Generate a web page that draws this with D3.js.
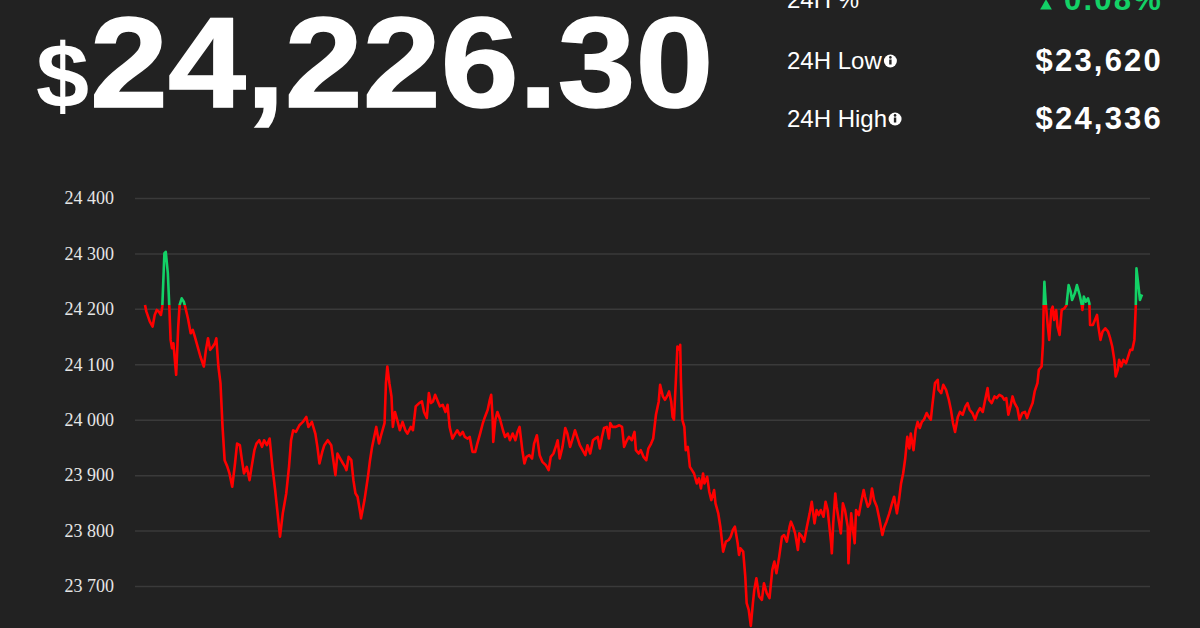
<!DOCTYPE html>
<html>
<head>
<meta charset="utf-8">
<script src="https://cdn.jsdelivr.net/npm/d3@7"></script>
<style>
  html, body { margin: 0; padding: 0; background: #222222; }
  svg { display: block; }
</style>
</head>
<body>
<svg id="chart" width="1200" height="628"></svg>
<script>
(function () {
    'use strict';

    const WIDTH = 1200;
    const HEIGHT = 628;

    // 24h window, minutes since open
    const minutes = [
        0, 2, 7, 11, 14, 17, 20, 23, 25, 28, 30, 33, 35, 37, 39, 41, 45, 48, 50, 53,
        56, 58, 62, 66, 69, 72, 76, 80, 85, 88, 91, 94, 98, 101, 103, 106, 109, 112, 115, 119,
        122, 126, 130, 133, 137, 140, 143, 147, 151, 154, 158, 161, 165, 169, 172, 176, 180, 184, 188, 192,
        195, 199, 204, 208, 211, 214, 218, 223, 228, 233, 236, 241, 246, 249, 252, 256, 259, 264, 269, 272,
        275, 278, 282, 286, 289, 291, 294, 298, 301, 304, 307, 311, 312, 317, 322, 325, 328, 331, 334, 338,
        341, 346, 348, 350, 353, 356, 358, 361, 365, 368, 372, 376, 379, 384, 387, 391, 396, 400, 403, 407,
        410, 413, 416, 419, 423, 426, 430, 434, 437, 440, 444, 448, 451, 455, 459, 462, 466, 469, 473, 477,
        480, 484, 488, 491, 495, 498, 500, 502, 503, 506, 509, 513, 517, 520, 524, 527, 531, 535, 538, 541,
        545, 548, 551, 555, 559, 562, 566, 570, 574, 579, 583, 586, 590, 594, 596, 599, 603, 607, 610, 614,
        617, 621, 625, 628, 632, 636, 639, 643, 647, 650, 654, 657, 660, 663, 667, 670, 672, 675, 680, 685,
        689, 692, 696, 699, 703, 707, 709, 713, 716, 720, 724, 727, 731, 734, 738, 742, 744, 748, 751, 755,
        757, 760, 762, 764, 767, 769, 772, 773, 774, 776, 779, 781, 784, 787, 790, 793, 797, 800, 803, 806,
        808, 812, 815, 818, 822, 824, 828, 831, 835, 839, 843, 846, 849, 852, 856, 858, 860, 864, 867, 869,
        872, 875, 878, 880, 883, 887, 891, 894, 898, 902, 906, 909, 912, 916, 920, 923, 927, 931, 933, 936,
        939, 943, 945, 949, 952, 956, 960, 963, 967, 970, 973, 976, 980, 983, 986, 988, 991, 992, 994, 997,
        999, 1002, 1005, 1008, 1011, 1015, 1016, 1020, 1022, 1025, 1027, 1031, 1034, 1038, 1040, 1044, 1047, 1050, 1053, 1057,
        1061, 1065, 1068, 1071, 1075, 1079, 1082, 1086, 1089, 1092, 1095, 1098, 1101, 1104, 1106, 1110, 1113, 1116, 1119, 1122,
        1125, 1129, 1132, 1135, 1137, 1141, 1145, 1146, 1150, 1153, 1157, 1161, 1164, 1167, 1170, 1174, 1177, 1181, 1185, 1188,
        1191, 1195, 1199, 1202, 1206, 1210, 1213, 1217, 1219, 1223, 1227, 1230, 1234, 1238, 1241, 1244, 1247, 1250, 1253, 1256,
        1260, 1263, 1267, 1271, 1274, 1278, 1282, 1285, 1289, 1291, 1295, 1297, 1298, 1299, 1301, 1304, 1306, 1309, 1311, 1313,
        1316, 1318, 1321, 1324, 1328, 1331, 1334, 1337, 1339, 1343, 1346, 1350, 1353, 1354, 1356, 1359, 1362, 1364, 1365, 1369,
        1372, 1375, 1377, 1380, 1383, 1387, 1391, 1394, 1397, 1400, 1402, 1405, 1407, 1410, 1413, 1417, 1420, 1423, 1426, 1429,
        1431, 1432, 1435, 1437, 1440
    ];

    const prices = [
        24207, 24195, 24177, 24168, 24189, 24198, 24195, 24189, 24204, 24300, 24303, 24264, 24207, 24144, 24129, 24138, 24081, 24168, 24207, 24219,
        24213, 24204, 24183, 24156, 24162, 24150, 24132, 24114, 24096, 24126, 24147, 24126, 24132, 24138, 24147, 24096, 24066, 23987, 23927, 23915,
        23903, 23879, 23921, 23957, 23954, 23927, 23903, 23915, 23891, 23915, 23945, 23957, 23963, 23951, 23963, 23954, 23966, 23915, 23873, 23825,
        23789, 23831, 23867, 23915, 23963, 23981, 23978, 23990, 23996, 24005, 23987, 23996, 23975, 23951, 23921, 23942, 23954, 23963, 23954, 23927,
        23900, 23939, 23930, 23921, 23915, 23909, 23933, 23927, 23891, 23867, 23861, 23831, 23822, 23855, 23897, 23927, 23951, 23969, 23987, 23957,
        23972, 23994, 24066, 24096, 24066, 24042, 23987, 24014, 23996, 23981, 23996, 23981, 23975, 23987, 23981, 24024, 24030, 24033, 24014, 24003,
        24048, 24030, 24033, 24045, 24033, 24024, 24027, 24014, 24027, 23987, 23966, 23975, 23981, 23972, 23978, 23969, 23966, 23969, 23942, 23942,
        23957, 23975, 23994, 24005, 24018, 24036, 24045, 24005, 23960, 24000, 24014, 24000, 23981, 23969, 23975, 23963, 23975, 23963, 23978, 23987,
        23945, 23921, 23933, 23936, 23930, 23957, 23972, 23936, 23924, 23918, 23909, 23933, 23939, 23954, 23963, 23930, 23951, 23985, 23975, 23951,
        23963, 23981, 23966, 23954, 23945, 23936, 23954, 23939, 23963, 23966, 23969, 23948, 23969, 23985, 23987, 23966, 23994, 23987, 23987, 23990,
        23987, 23951, 23963, 23969, 23963, 23978, 23945, 23939, 23945, 23933, 23927, 23948, 23957, 23966, 24009, 24033, 24063, 24042, 24036, 24045,
        24051, 24033, 24005, 24000, 24078, 24132, 24126, 24135, 24072, 24000, 23987, 23945, 23951, 23915, 23909, 23903, 23885, 23894, 23876, 23903,
        23885, 23897, 23870, 23855, 23873, 23849, 23831, 23807, 23762, 23780, 23783, 23789, 23801, 23807, 23777, 23756, 23768, 23762, 23717, 23669,
        23657, 23628, 23669, 23693, 23714, 23681, 23675, 23705, 23687, 23678, 23729, 23744, 23723, 23753, 23789, 23792, 23780, 23807, 23816, 23807,
        23795, 23765, 23795, 23789, 23780, 23807, 23831, 23852, 23813, 23837, 23828, 23837, 23825, 23852, 23837, 23813, 23777, 23759, 23813, 23867,
        23843, 23819, 23795, 23849, 23837, 23807, 23741, 23831, 23807, 23777, 23837, 23828, 23849, 23873, 23861, 23843, 23849, 23876, 23855, 23843,
        23819, 23792, 23807, 23816, 23831, 23849, 23861, 23831, 23855, 23885, 23903, 23930, 23969, 23948, 23975, 23945, 23981, 23996, 23985, 23996,
        24000, 24012, 24005, 24000, 24024, 24066, 24072, 24054, 24048, 24063, 24054, 24036, 24018, 23994, 23978, 24005, 24014, 24009, 24024, 24030,
        24018, 24012, 24000, 24012, 24021, 24014, 24033, 24057, 24036, 24030, 24042, 24039, 24045, 24042, 24036, 24039, 24009, 24024, 24042, 24030,
        24021, 24000, 24012, 24014, 24003, 24018, 24030, 24051, 24066, 24090, 24096, 24138, 24207, 24249, 24210, 24168, 24144, 24198, 24204, 24180,
        24198, 24168, 24153, 24198, 24201, 24207, 24243, 24231, 24216, 24228, 24243, 24225, 24207, 24198, 24222, 24213, 24219, 24210, 24171, 24171,
        24180, 24189, 24168, 24144, 24159, 24165, 24159, 24147, 24132, 24108, 24078, 24090, 24108, 24096, 24108, 24102, 24114, 24126, 24126, 24144,
        24204, 24273, 24240, 24216, 24226
    ];

    const openPrice = 24207;
    const yTicks = [23700, 23800, 23900, 24000, 24100, 24200, 24300, 24400];

    const priceText = "24,226.30";
    const statLabels = ["24H %", "24H Low", "24H High"];
    const statValues = ["0.08%", "$23,620", "$24,336"];

    const GREEN = '#13d166';
    const SANS = '"Liberation Sans", Arial, sans-serif';

    const svg = d3.select('#chart');
    svg.append('rect').attr('width', WIDTH).attr('height', HEIGHT).attr('fill', '#222222');

    // header price
    svg.append('text')
        .attr('transform', 'translate(36,107) scale(1.06,1)')
        .attr('fill', '#ffffff')
        .attr('font-family', SANS)
        .attr('font-weight', 'bold')
        .attr('font-size', 90)
        .text('$');
    svg.append('text')
        .attr('transform', 'translate(90,107) scale(1.095,1)')
        .attr('fill', '#ffffff')
        .attr('stroke', '#ffffff')
        .attr('stroke-width', 1.5)
        .attr('font-family', SANS)
        .attr('font-weight', 'bold')
        .attr('font-size', 128)
        .text(priceText);

    const statRows = [8, 69, 127];
    statLabels.forEach((label, i) => {
        let t = svg.append('text')
            .attr('x', 787).attr('y', statRows[i])
            .attr('fill', '#ffffff')
            .attr('font-family', SANS)
            .attr('font-size', 24)
            .text(label);
        if (i > 0) {
            let bb = t.node().getBBox();
            let cx = bb.x + bb.width + 8, cy = statRows[i] - 8;
            svg.append('circle').attr('cx', cx).attr('cy', cy).attr('r', 6.5).attr('fill', '#ffffff');
            svg.append('rect').attr('x', cx - 1.2).attr('y', cy - 1.5).attr('width', 2.4).attr('height', 5).attr('fill', '#222222');
            svg.append('circle').attr('cx', cx).attr('cy', cy - 3.6).attr('r', 1.3).attr('fill', '#222222');
        }
        svg.append('text')
            .attr('x', 1163).attr('y', statRows[i] + 2)
            .attr('text-anchor', 'end')
            .attr('fill', i === 0 ? GREEN : '#ffffff')
            .attr('font-family', SANS)
            .attr('font-weight', 'bold')
            .attr('font-size', 31)
            .attr('letter-spacing', 2.2)
            .text(statValues[i]);
    });
    // up arrow next to 24H %
    svg.append('path')
        .attr('d', d3.symbol(d3.symbolTriangle, 60)())
        .attr('transform', 'translate(1046,6)')
        .attr('fill', GREEN);

    // chart
    const x = d3.scaleLinear().domain([0, 1440]).range([145, 1142]);
    const y = d3.scaleLinear().domain([23700, 24400]).range([586, 198]);

    const fmt = d3.formatLocale({decimal: '.', thousands: ' ', grouping: [3], currency: ['$', '']}).format(',');

    let yAxis = d3.axisLeft(y)
        .tickValues(yTicks)
        .tickSize(-1015)
        .tickPadding(21)
        .tickFormat(d => fmt(d));

    svg.append('g')
        .attr('transform', 'translate(135,0)')
        .call(yAxis)
        .call(g => g.select('.domain').remove())
        .call(g => g.selectAll('.tick line').attr('stroke', '#3a3a3a').attr('stroke-width', 1.5))
        .call(g => g.selectAll('.tick text')
            .attr('fill', '#e6e6e6')
            .attr('font-family', '"Liberation Serif", "Times New Roman", serif')
            .attr('font-size', 18));

    const series = minutes.map((m, i) => ({t: m, v: prices[i]}));
    const line = d3.line().x(d => x(d.t)).y(d => y(d.v));
    const split = y(openPrice);

    let defs = svg.append('defs');
    defs.append('clipPath').attr('id', 'above')
        .append('rect').attr('x', 0).attr('y', 0).attr('width', WIDTH).attr('height', split);
    defs.append('clipPath').attr('id', 'below')
        .append('rect').attr('x', 0).attr('y', split).attr('width', WIDTH).attr('height', HEIGHT - split);

    svg.append('path').datum(series)
        .attr('clip-path', 'url(#below)')
        .attr('d', line).attr('fill', 'none')
        .attr('stroke', '#ff0000').attr('stroke-width', 2.6).attr('stroke-linejoin', 'round');
    svg.append('path').datum(series)
        .attr('clip-path', 'url(#above)')
        .attr('d', line).attr('fill', 'none')
        .attr('stroke', GREEN).attr('stroke-width', 2.6).attr('stroke-linejoin', 'round');
})();
</script>
</body>
</html>
